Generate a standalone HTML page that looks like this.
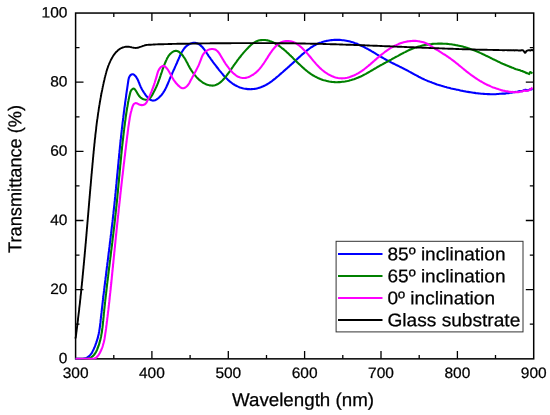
<!DOCTYPE html>
<html><head><meta charset="utf-8"><title>Transmittance</title>
<style>html,body{margin:0;padding:0;background:#fff}svg{display:block}text{font-family:"Liberation Sans",sans-serif;fill:#000;stroke:#000;stroke-width:0.25px}</style>
</head><body>
<svg width="550" height="415" viewBox="0 0 550 415">
<rect width="550" height="415" fill="#fff"/>
<rect x="75.6" y="13.05" width="458.1" height="345.8" fill="none" stroke="#000" stroke-width="1.5"/>
<path d="M113.8,358.8v-3.9M113.8,13.05v3.9M151.9,358.8v-7.9M151.9,13.05v7.9M190.1,358.8v-3.9M190.1,13.05v3.9M228.3,358.8v-7.9M228.3,13.05v7.9M266.5,358.8v-3.9M266.5,13.05v3.9M304.6,358.8v-7.9M304.6,13.05v7.9M342.8,358.8v-3.9M342.8,13.05v3.9M381.0,358.8v-7.9M381.0,13.05v7.9M419.2,358.8v-3.9M419.2,13.05v3.9M457.4,358.8v-7.9M457.4,13.05v7.9M495.5,358.8v-3.9M495.5,13.05v3.9M75.6,324.2h3.9M533.7,324.2h-3.9M75.6,289.6h7.9M533.7,289.6h-7.9M75.6,255.1h3.9M533.7,255.1h-3.9M75.6,220.5h7.9M533.7,220.5h-7.9M75.6,185.9h3.9M533.7,185.9h-3.9M75.6,151.4h7.9M533.7,151.4h-7.9M75.6,116.8h3.9M533.7,116.8h-3.9M75.6,82.2h7.9M533.7,82.2h-7.9M75.6,47.6h3.9M533.7,47.6h-3.9" stroke="#000" stroke-width="1.3" fill="none"/>
<clipPath id="cp"><rect x="74" y="12" width="461" height="347.6"/></clipPath><g fill="none" stroke-linejoin="round" stroke-linecap="butt" clip-path="url(#cp)">
<path d="M75.5,358.8 L76.8,358.8 L78.2,358.8 L79.5,358.8 L80.8,358.8 L82.1,358.8 L83.5,358.6 L84.8,358.3 L86.1,357.9 L87.3,357.4 L88.4,356.7 L89.4,355.9 L90.3,354.9 L91.1,353.9 L91.9,352.8 L92.5,351.6 L93.1,350.4 L93.7,349.2 L94.2,347.9 L94.8,346.7 L95.3,345.4 L95.7,344.2 L96.2,342.9 L96.6,341.7 L97.0,340.4 L97.4,339.1 L97.8,337.9 L98.1,336.6 L98.4,335.3 L98.7,334.0 L98.9,332.7 L99.2,331.4 L99.4,330.1 L99.6,328.8 L99.8,327.5 L100.0,326.2 L100.1,324.8 L100.3,323.5 L100.5,322.2 L100.6,320.9 L100.7,319.5 L100.9,318.2 L101.0,316.9 L101.2,315.6 L101.3,314.2 L101.5,312.9 L101.6,311.6 L101.8,310.3 L101.9,308.9 L102.1,307.6 L102.2,306.3 L102.4,305.0 L102.5,303.6 L102.7,302.3 L102.8,301.0 L103.0,299.7 L103.1,298.4 L103.3,297.0 L103.4,295.7 L103.6,294.4 L103.8,293.1 L103.9,291.7 L104.1,290.4 L104.2,289.1 L104.4,287.8 L104.6,286.5 L104.7,285.1 L104.9,283.8 L105.0,282.5 L105.2,281.2 L105.4,279.9 L105.5,278.5 L105.7,277.2 L105.9,275.9 L106.0,274.6 L106.2,273.3 L106.3,272.0 L106.5,270.6 L106.7,269.3 L106.8,268.0 L107.0,266.7 L107.2,265.4 L107.3,264.0 L107.5,262.7 L107.7,261.4 L107.8,260.1 L108.0,258.8 L108.2,257.5 L108.3,256.1 L108.5,254.8 L108.6,253.5 L108.8,252.2 L109.0,250.9 L109.1,249.6 L109.3,248.2 L109.5,246.9 L109.6,245.6 L109.8,244.3 L109.9,243.0 L110.1,241.6 L110.3,240.3 L110.4,239.0 L110.6,237.7 L110.7,236.4 L110.9,235.1 L111.1,233.7 L111.2,232.4 L111.4,231.1 L111.5,229.8 L111.7,228.5 L111.8,227.1 L112.0,225.8 L112.2,224.5 L112.3,223.2 L112.5,221.9 L112.6,220.5 L112.8,219.2 L112.9,217.9 L113.1,216.6 L113.2,215.2 L113.4,213.9 L113.5,212.6 L113.6,211.3 L113.8,210.0 L113.9,208.6 L114.1,207.3 L114.2,206.0 L114.4,204.7 L114.5,203.3 L114.6,202.0 L114.8,200.7 L114.9,199.4 L115.0,198.0 L115.2,196.7 L115.3,195.4 L115.4,194.1 L115.6,192.7 L115.7,191.4 L115.8,190.1 L116.0,188.7 L116.1,187.4 L116.2,186.1 L116.3,184.8 L116.5,183.4 L116.6,182.1 L116.7,180.8 L116.8,179.4 L117.0,178.1 L117.1,176.8 L117.2,175.5 L117.3,174.1 L117.5,172.8 L117.6,171.5 L117.7,170.2 L117.9,168.8 L118.0,167.5 L118.1,166.2 L118.2,164.8 L118.4,163.5 L118.5,162.2 L118.6,160.9 L118.7,159.5 L118.9,158.2 L119.0,156.9 L119.1,155.6 L119.2,154.2 L119.4,152.9 L119.5,151.6 L119.6,150.3 L119.8,149.0 L119.9,147.6 L120.0,146.3 L120.2,145.0 L120.3,143.7 L120.4,142.4 L120.6,141.0 L120.7,139.7 L120.9,138.4 L121.0,137.1 L121.1,135.8 L121.3,134.5 L121.4,133.1 L121.6,131.8 L121.7,130.5 L121.9,129.2 L122.0,127.9 L122.2,126.6 L122.3,125.3 L122.5,124.0 L122.6,122.6 L122.8,121.3 L123.0,120.0 L123.1,118.7 L123.3,117.4 L123.4,116.1 L123.6,114.8 L123.8,113.5 L123.9,112.2 L124.1,110.8 L124.3,109.5 L124.4,108.2 L124.6,106.9 L124.8,105.6 L125.0,104.3 L125.1,102.9 L125.3,101.6 L125.5,100.3 L125.7,99.0 L125.9,97.6 L126.1,96.3 L126.2,95.0 L126.4,93.6 L126.6,92.3 L126.8,90.9 L127.0,89.6 L127.2,88.3 L127.4,86.9 L127.6,85.6 L127.8,84.2 L128.0,82.8 L128.2,81.5 L128.4,80.1 L128.7,78.8 L129.0,77.5 L129.6,76.4 L130.3,75.4 L131.2,74.6 L132.2,74.2 L133.3,74.3 L134.3,74.9 L135.3,75.9 L136.2,77.0 L136.9,78.2 L137.6,79.4 L138.2,80.7 L138.7,82.0 L139.2,83.2 L139.7,84.5 L140.2,85.7 L140.7,86.9 L141.3,88.0 L141.9,89.2 L142.5,90.3 L143.2,91.4 L143.9,92.5 L144.7,93.6 L145.5,94.8 L146.4,96.0 L147.3,97.1 L148.3,98.1 L149.3,99.0 L150.4,99.8 L151.5,100.3 L152.7,100.6 L153.9,100.5 L155.1,100.2 L156.3,99.6 L157.4,98.8 L158.5,98.0 L159.5,97.1 L160.5,96.1 L161.4,95.2 L162.2,94.1 L163.0,93.0 L163.7,91.9 L164.4,90.8 L165.1,89.6 L165.7,88.4 L166.3,87.2 L166.8,86.0 L167.4,84.8 L167.9,83.5 L168.4,82.3 L168.9,81.1 L169.4,79.8 L169.9,78.6 L170.4,77.4 L171.0,76.2 L171.5,75.0 L172.0,73.8 L172.5,72.6 L173.1,71.4 L173.6,70.2 L174.2,69.0 L174.7,67.8 L175.2,66.6 L175.8,65.4 L176.3,64.2 L176.9,63.0 L177.4,61.7 L177.9,60.5 L178.5,59.2 L179.0,58.0 L179.6,56.7 L180.1,55.5 L180.7,54.2 L181.3,53.0 L182.0,51.8 L182.7,50.7 L183.4,49.6 L184.2,48.5 L185.0,47.5 L185.9,46.6 L186.8,45.8 L187.9,45.0 L189.0,44.3 L190.2,43.8 L191.5,43.3 L192.8,42.9 L194.2,42.8 L195.6,42.9 L196.9,43.2 L198.1,43.7 L199.2,44.4 L200.3,45.2 L201.3,46.1 L202.3,47.0 L203.1,48.0 L204.0,49.1 L204.8,50.2 L205.5,51.3 L206.3,52.4 L207.0,53.5 L207.8,54.6 L208.5,55.8 L209.3,56.9 L210.1,57.9 L210.8,59.0 L211.6,60.1 L212.4,61.2 L213.2,62.3 L214.0,63.3 L214.8,64.4 L215.6,65.4 L216.4,66.5 L217.2,67.5 L218.0,68.5 L218.8,69.6 L219.6,70.6 L220.5,71.6 L221.3,72.6 L222.2,73.6 L223.0,74.7 L223.9,75.7 L224.8,76.7 L225.8,77.6 L226.7,78.6 L227.7,79.6 L228.7,80.5 L229.7,81.4 L230.7,82.2 L231.8,83.0 L232.9,83.8 L234.0,84.5 L235.1,85.2 L236.3,85.8 L237.5,86.4 L238.7,86.9 L240.0,87.4 L241.2,87.8 L242.5,88.2 L243.8,88.5 L245.1,88.7 L246.4,88.9 L247.8,89.1 L249.1,89.1 L250.4,89.2 L251.7,89.1 L253.1,89.0 L254.4,88.9 L255.7,88.7 L257.0,88.4 L258.3,88.1 L259.5,87.7 L260.8,87.3 L262.0,86.8 L263.2,86.3 L264.4,85.7 L265.6,85.1 L266.7,84.5 L267.8,83.8 L269.0,83.1 L270.1,82.3 L271.2,81.6 L272.3,80.8 L273.4,79.9 L274.4,79.1 L275.5,78.3 L276.5,77.4 L277.6,76.5 L278.6,75.7 L279.6,74.8 L280.6,73.9 L281.6,73.0 L282.6,72.2 L283.6,71.3 L284.6,70.4 L285.6,69.5 L286.6,68.6 L287.6,67.8 L288.6,66.9 L289.5,66.0 L290.5,65.1 L291.5,64.2 L292.5,63.4 L293.4,62.5 L294.4,61.6 L295.4,60.7 L296.4,59.8 L297.3,58.9 L298.3,58.0 L299.3,57.1 L300.3,56.2 L301.3,55.3 L302.3,54.4 L303.3,53.6 L304.3,52.7 L305.3,51.8 L306.4,51.0 L307.4,50.1 L308.5,49.3 L309.6,48.5 L310.6,47.7 L311.8,47.0 L312.9,46.3 L314.0,45.6 L315.2,45.0 L316.4,44.4 L317.6,43.8 L318.8,43.3 L320.0,42.8 L321.3,42.4 L322.5,41.9 L323.8,41.6 L325.1,41.2 L326.4,40.9 L327.7,40.7 L329.0,40.5 L330.3,40.3 L331.6,40.1 L333.0,40.0 L334.3,39.9 L335.6,39.9 L337.0,39.9 L338.3,39.9 L339.7,39.9 L341.0,40.0 L342.3,40.2 L343.6,40.3 L345.0,40.5 L346.3,40.7 L347.6,41.0 L348.9,41.3 L350.2,41.6 L351.4,41.9 L352.7,42.3 L354.0,42.7 L355.2,43.2 L356.4,43.6 L357.7,44.1 L358.9,44.6 L360.1,45.1 L361.3,45.7 L362.5,46.3 L363.7,46.9 L364.9,47.5 L366.0,48.1 L367.2,48.7 L368.4,49.4 L369.5,50.0 L370.7,50.7 L371.8,51.4 L373.0,52.0 L374.1,52.7 L375.3,53.4 L376.4,54.1 L377.6,54.8 L378.7,55.5 L379.9,56.1 L381.0,56.8 L382.2,57.5 L383.4,58.2 L384.5,58.8 L385.7,59.5 L386.8,60.1 L388.0,60.8 L389.2,61.4 L390.4,62.0 L391.5,62.6 L392.7,63.2 L393.9,63.8 L395.1,64.4 L396.3,65.0 L397.5,65.5 L398.7,66.1 L399.8,66.7 L401.0,67.3 L402.2,67.9 L403.4,68.5 L404.6,69.1 L405.8,69.7 L406.9,70.3 L408.1,70.9 L409.3,71.6 L410.4,72.2 L411.6,72.8 L412.8,73.5 L413.9,74.1 L415.1,74.8 L416.3,75.4 L417.5,76.0 L418.6,76.7 L419.8,77.3 L421.0,77.9 L422.2,78.5 L423.4,79.0 L424.6,79.6 L425.8,80.1 L427.0,80.6 L428.3,81.2 L429.5,81.6 L430.7,82.1 L432.0,82.6 L433.2,83.1 L434.5,83.5 L435.7,83.9 L437.0,84.4 L438.2,84.8 L439.5,85.2 L440.8,85.6 L442.1,85.9 L443.3,86.3 L444.6,86.7 L445.9,87.0 L447.2,87.4 L448.5,87.7 L449.8,88.0 L451.1,88.4 L452.4,88.7 L453.7,89.0 L455.0,89.3 L456.3,89.6 L457.6,89.8 L458.9,90.1 L460.2,90.4 L461.5,90.7 L462.8,90.9 L464.1,91.2 L465.4,91.4 L466.7,91.7 L468.0,91.9 L469.3,92.1 L470.6,92.3 L471.9,92.5 L473.3,92.7 L474.6,92.9 L475.9,93.1 L477.2,93.2 L478.5,93.4 L479.8,93.5 L481.2,93.7 L482.5,93.8 L483.8,93.9 L485.1,94.0 L486.4,94.0 L487.8,94.1 L489.1,94.1 L490.4,94.2 L491.7,94.2 L493.1,94.2 L494.4,94.2 L495.7,94.2 L497.1,94.0 L498.4,94.0 L499.7,93.8 L501.0,93.8 L502.4,93.6 L503.7,93.6 L505.0,93.6 L506.4,93.3 L507.7,93.3 L509.0,93.1 L510.3,92.6 L511.7,92.7 L513.0,92.3 L514.3,92.2 L515.6,91.9 L516.9,92.0 L518.2,91.5 L519.6,91.0 L520.9,91.1 L522.2,91.2 L523.5,90.3 L524.8,89.9 L526.1,89.9 L527.4,90.4 L528.6,90.2 L529.9,89.4 L531.2,89.5 L532.5,89.1" stroke="#0000ff" stroke-width="2.1"/>
<path d="M75.6,358.8 L76.7,358.7 L78.0,358.7 L79.3,358.8 L80.6,358.8 L82.0,358.9 L83.4,358.9 L84.8,358.9 L86.2,358.8 L87.5,358.6 L88.8,358.3 L90.0,357.9 L91.1,357.4 L92.1,356.7 L93.1,355.9 L93.9,355.0 L94.7,354.0 L95.4,352.9 L96.1,351.7 L96.7,350.5 L97.2,349.3 L97.7,348.0 L98.2,346.7 L98.7,345.5 L99.1,344.2 L99.5,342.9 L99.8,341.6 L100.2,340.4 L100.5,339.1 L100.8,337.8 L101.1,336.5 L101.3,335.2 L101.5,333.9 L101.8,332.6 L102.0,331.3 L102.1,330.0 L102.3,328.7 L102.5,327.4 L102.6,326.1 L102.8,324.8 L102.9,323.5 L103.0,322.2 L103.2,320.9 L103.3,319.6 L103.4,318.3 L103.6,316.9 L103.7,315.6 L103.8,314.3 L103.9,313.0 L104.1,311.7 L104.2,310.4 L104.3,309.1 L104.5,307.8 L104.6,306.5 L104.8,305.2 L104.9,303.9 L105.0,302.6 L105.2,301.2 L105.3,299.9 L105.5,298.6 L105.6,297.3 L105.8,296.0 L105.9,294.7 L106.1,293.4 L106.2,292.1 L106.4,290.8 L106.5,289.5 L106.7,288.2 L106.8,286.9 L107.0,285.5 L107.1,284.2 L107.3,282.9 L107.4,281.6 L107.6,280.3 L107.8,279.0 L107.9,277.7 L108.1,276.4 L108.2,275.1 L108.4,273.8 L108.6,272.5 L108.7,271.2 L108.9,269.8 L109.0,268.5 L109.2,267.2 L109.4,265.9 L109.5,264.6 L109.7,263.3 L109.8,262.0 L110.0,260.7 L110.2,259.4 L110.3,258.1 L110.5,256.8 L110.7,255.5 L110.8,254.1 L111.0,252.8 L111.1,251.5 L111.3,250.2 L111.5,248.9 L111.6,247.6 L111.8,246.3 L112.0,245.0 L112.1,243.7 L112.3,242.4 L112.4,241.1 L112.6,239.8 L112.7,238.4 L112.9,237.1 L113.1,235.8 L113.2,234.5 L113.4,233.2 L113.5,231.9 L113.7,230.6 L113.8,229.3 L114.0,228.0 L114.2,226.7 L114.3,225.3 L114.5,224.0 L114.6,222.7 L114.8,221.4 L114.9,220.1 L115.1,218.8 L115.2,217.5 L115.3,216.2 L115.5,214.9 L115.6,213.6 L115.8,212.2 L115.9,210.9 L116.1,209.6 L116.2,208.3 L116.3,207.0 L116.5,205.7 L116.6,204.4 L116.7,203.1 L116.9,201.8 L117.0,200.4 L117.1,199.1 L117.3,197.8 L117.4,196.5 L117.5,195.2 L117.6,193.9 L117.8,192.6 L117.9,191.3 L118.0,190.0 L118.1,188.6 L118.3,187.3 L118.4,186.0 L118.5,184.7 L118.6,183.4 L118.8,182.1 L118.9,180.8 L119.0,179.5 L119.1,178.1 L119.2,176.8 L119.4,175.5 L119.5,174.2 L119.6,172.9 L119.7,171.6 L119.8,170.3 L120.0,169.0 L120.1,167.7 L120.2,166.3 L120.3,165.0 L120.5,163.7 L120.6,162.4 L120.7,161.1 L120.8,159.8 L121.0,158.5 L121.1,157.2 L121.2,155.9 L121.3,154.5 L121.5,153.2 L121.6,151.9 L121.7,150.6 L121.9,149.3 L122.0,148.0 L122.1,146.7 L122.3,145.4 L122.4,144.1 L122.6,142.8 L122.7,141.4 L122.9,140.1 L123.0,138.8 L123.2,137.5 L123.3,136.2 L123.5,134.9 L123.6,133.6 L123.8,132.3 L123.9,131.0 L124.1,129.7 L124.2,128.4 L124.4,127.1 L124.6,125.8 L124.8,124.5 L124.9,123.1 L125.1,121.8 L125.3,120.5 L125.5,119.2 L125.6,117.9 L125.8,116.6 L126.0,115.3 L126.2,114.0 L126.4,112.7 L126.6,111.4 L126.8,110.1 L127.0,108.8 L127.2,107.5 L127.5,106.2 L127.7,104.9 L127.9,103.6 L128.1,102.3 L128.4,101.0 L128.6,99.7 L128.9,98.4 L129.2,97.1 L129.5,95.8 L129.8,94.6 L130.1,93.3 L130.4,92.0 L130.9,90.8 L131.7,89.7 L132.8,88.8 L133.9,88.6 L134.9,89.3 L135.7,90.5 L136.5,91.8 L137.2,93.0 L137.9,94.2 L138.7,95.3 L139.4,96.3 L140.3,97.2 L141.2,98.0 L142.3,98.7 L143.5,99.2 L144.9,99.6 L146.3,99.7 L147.6,99.5 L148.7,99.1 L149.7,98.3 L150.6,97.4 L151.4,96.3 L152.1,95.1 L152.8,93.9 L153.5,92.6 L154.1,91.4 L154.7,90.2 L155.3,89.0 L155.8,87.9 L156.4,86.7 L156.9,85.5 L157.4,84.4 L157.9,83.2 L158.3,82.0 L158.8,80.7 L159.2,79.5 L159.7,78.3 L160.1,77.0 L160.5,75.8 L160.9,74.5 L161.4,73.2 L161.8,72.0 L162.2,70.7 L162.6,69.4 L163.1,68.2 L163.5,66.9 L164.0,65.7 L164.5,64.4 L165.0,63.2 L165.5,62.0 L166.0,60.8 L166.6,59.6 L167.1,58.4 L167.8,57.3 L168.4,56.2 L169.2,55.1 L170.0,54.1 L171.0,53.2 L172.1,52.3 L173.3,51.5 L174.6,51.0 L175.9,50.8 L177.1,51.0 L178.3,51.5 L179.4,52.2 L180.4,53.1 L181.4,54.0 L182.3,55.0 L183.1,56.0 L183.8,57.1 L184.6,58.2 L185.3,59.3 L185.9,60.5 L186.5,61.6 L187.2,62.8 L187.8,64.0 L188.4,65.2 L189.0,66.3 L189.6,67.5 L190.3,68.6 L191.0,69.8 L191.7,70.9 L192.5,72.0 L193.2,73.0 L194.0,74.1 L194.8,75.1 L195.7,76.1 L196.5,77.1 L197.4,78.1 L198.4,79.0 L199.3,79.9 L200.3,80.7 L201.4,81.5 L202.4,82.3 L203.6,83.0 L204.8,83.6 L206.0,84.2 L207.3,84.7 L208.6,85.1 L209.9,85.4 L211.2,85.5 L212.5,85.6 L213.8,85.5 L215.0,85.2 L216.2,84.8 L217.4,84.3 L218.5,83.6 L219.6,82.9 L220.6,82.1 L221.6,81.2 L222.6,80.3 L223.5,79.3 L224.5,78.2 L225.3,77.2 L226.2,76.1 L227.0,75.0 L227.8,74.0 L228.6,72.9 L229.4,71.8 L230.1,70.8 L230.9,69.7 L231.6,68.6 L232.3,67.6 L233.1,66.5 L233.8,65.4 L234.6,64.4 L235.3,63.3 L236.1,62.3 L236.9,61.2 L237.6,60.1 L238.4,59.1 L239.2,58.0 L240.1,57.0 L240.9,56.0 L241.7,54.9 L242.6,53.9 L243.4,52.9 L244.3,51.9 L245.2,50.9 L246.1,49.9 L247.0,48.9 L247.9,48.0 L248.8,47.0 L249.8,46.1 L250.7,45.2 L251.7,44.3 L252.8,43.5 L253.8,42.8 L254.9,42.1 L256.1,41.5 L257.3,41.0 L258.5,40.6 L259.8,40.3 L261.1,40.1 L262.5,40.0 L263.9,40.0 L265.2,40.0 L266.5,40.2 L267.8,40.4 L269.1,40.8 L270.3,41.2 L271.6,41.6 L272.8,42.1 L273.9,42.7 L275.1,43.3 L276.2,44.0 L277.3,44.7 L278.4,45.4 L279.5,46.2 L280.6,47.0 L281.6,47.8 L282.7,48.6 L283.7,49.4 L284.7,50.3 L285.7,51.1 L286.6,52.0 L287.6,52.9 L288.6,53.8 L289.5,54.7 L290.5,55.6 L291.4,56.5 L292.4,57.4 L293.3,58.4 L294.2,59.3 L295.2,60.2 L296.1,61.1 L297.0,62.1 L298.0,63.0 L298.9,63.9 L299.9,64.8 L300.9,65.7 L301.8,66.6 L302.8,67.5 L303.8,68.4 L304.8,69.3 L305.8,70.1 L306.9,71.0 L307.9,71.8 L309.0,72.6 L310.0,73.3 L311.1,74.1 L312.2,74.8 L313.3,75.5 L314.5,76.2 L315.6,76.8 L316.8,77.4 L318.0,78.0 L319.2,78.5 L320.4,79.0 L321.6,79.4 L322.9,79.9 L324.1,80.3 L325.4,80.6 L326.7,80.9 L328.0,81.2 L329.2,81.5 L330.5,81.7 L331.8,81.9 L333.1,82.0 L334.5,82.1 L335.8,82.2 L337.1,82.2 L338.4,82.1 L339.7,82.1 L341.0,82.0 L342.3,81.8 L343.7,81.7 L345.0,81.5 L346.3,81.2 L347.6,81.0 L348.9,80.7 L350.1,80.3 L351.4,80.0 L352.7,79.6 L354.0,79.2 L355.2,78.7 L356.4,78.3 L357.7,77.8 L358.9,77.2 L360.1,76.7 L361.3,76.2 L362.5,75.6 L363.6,75.0 L364.8,74.4 L365.9,73.8 L367.1,73.1 L368.2,72.5 L369.4,71.8 L370.5,71.2 L371.7,70.5 L372.8,69.9 L373.9,69.2 L375.1,68.5 L376.2,67.9 L377.3,67.2 L378.5,66.5 L379.6,65.9 L380.7,65.2 L381.9,64.6 L383.0,64.0 L384.2,63.3 L385.4,62.7 L386.5,62.1 L387.7,61.5 L388.8,60.8 L390.0,60.2 L391.2,59.6 L392.3,58.9 L393.5,58.3 L394.6,57.7 L395.8,57.0 L397.0,56.4 L398.1,55.8 L399.3,55.1 L400.4,54.5 L401.6,53.9 L402.8,53.3 L403.9,52.6 L405.1,52.1 L406.3,51.5 L407.5,50.9 L408.7,50.3 L409.9,49.8 L411.1,49.3 L412.3,48.8 L413.5,48.3 L414.7,47.8 L416.0,47.4 L417.2,47.0 L418.5,46.6 L419.7,46.3 L421.0,45.9 L422.3,45.6 L423.6,45.3 L424.9,45.0 L426.2,44.8 L427.5,44.6 L428.8,44.4 L430.1,44.2 L431.4,44.1 L432.7,43.9 L434.0,43.8 L435.3,43.7 L436.7,43.7 L438.0,43.6 L439.3,43.6 L440.6,43.6 L441.9,43.6 L443.3,43.7 L444.6,43.7 L445.9,43.8 L447.2,43.9 L448.5,44.0 L449.8,44.2 L451.1,44.3 L452.4,44.5 L453.7,44.7 L455.0,44.9 L456.3,45.2 L457.6,45.4 L458.9,45.7 L460.2,46.0 L461.5,46.3 L462.8,46.6 L464.0,46.9 L465.3,47.3 L466.6,47.7 L467.8,48.1 L469.1,48.5 L470.3,48.9 L471.6,49.4 L472.8,49.8 L474.0,50.3 L475.3,50.8 L476.5,51.3 L477.7,51.8 L478.9,52.3 L480.1,52.9 L481.3,53.4 L482.5,54.0 L483.7,54.5 L484.9,55.1 L486.1,55.7 L487.3,56.2 L488.4,56.8 L489.6,57.4 L490.8,58.0 L492.0,58.6 L493.2,59.2 L494.4,59.7 L495.5,60.3 L496.7,60.9 L497.9,61.5 L499.1,62.0 L500.3,62.6 L501.5,63.3 L502.7,63.8 L503.9,64.2 L505.1,64.7 L506.3,65.3 L507.5,65.7 L508.7,66.2 L509.9,66.9 L511.1,67.1 L512.3,67.8 L513.6,68.1 L514.8,68.8 L516.1,69.3 L517.3,69.6 L518.6,70.0 L519.8,70.1 L521.1,70.9 L522.3,71.0 L523.6,71.8 L524.8,72.1 L526.0,72.9 L527.1,73.1 L528.2,73.6 L529.2,74.1 L530.1,72.1 L531.2,72.5 L532.4,73.5" stroke="#008000" stroke-width="2.1"/>
<path d="M75.5,358.8 L76.9,358.9 L78.3,358.9 L79.6,358.9 L80.9,358.8 L82.2,358.8 L83.5,358.7 L84.8,358.7 L86.1,358.7 L87.5,358.7 L88.9,358.8 L90.3,358.9 L91.7,358.9 L93.1,358.8 L94.4,358.5 L95.5,358.0 L96.6,357.3 L97.5,356.3 L98.3,355.3 L99.1,354.1 L99.8,353.0 L100.4,351.7 L101.0,350.5 L101.5,349.3 L102.0,348.1 L102.5,346.8 L102.9,345.5 L103.2,344.3 L103.6,343.0 L103.9,341.7 L104.2,340.4 L104.5,339.0 L104.7,337.7 L104.9,336.4 L105.1,335.1 L105.3,333.7 L105.5,332.4 L105.7,331.1 L105.9,329.7 L106.1,328.4 L106.2,327.1 L106.4,325.7 L106.6,324.4 L106.7,323.1 L106.9,321.7 L107.1,320.4 L107.2,319.1 L107.4,317.7 L107.6,316.4 L107.7,315.1 L107.9,313.7 L108.0,312.4 L108.2,311.1 L108.4,309.7 L108.5,308.4 L108.7,307.0 L108.8,305.7 L109.0,304.4 L109.1,303.0 L109.3,301.7 L109.4,300.4 L109.6,299.0 L109.7,297.7 L109.8,296.4 L110.0,295.0 L110.1,293.7 L110.3,292.4 L110.4,291.0 L110.6,289.7 L110.7,288.4 L110.8,287.0 L111.0,285.7 L111.1,284.4 L111.3,283.0 L111.4,281.7 L111.5,280.4 L111.7,279.0 L111.8,277.7 L111.9,276.4 L112.1,275.0 L112.2,273.7 L112.3,272.4 L112.5,271.0 L112.6,269.7 L112.7,268.3 L112.9,267.0 L113.0,265.7 L113.1,264.3 L113.3,263.0 L113.4,261.7 L113.5,260.3 L113.7,259.0 L113.8,257.7 L113.9,256.3 L114.1,255.0 L114.2,253.7 L114.3,252.3 L114.5,251.0 L114.6,249.7 L114.7,248.3 L114.9,247.0 L115.0,245.6 L115.1,244.3 L115.3,243.0 L115.4,241.6 L115.5,240.3 L115.7,239.0 L115.8,237.6 L115.9,236.3 L116.1,235.0 L116.2,233.6 L116.4,232.3 L116.5,230.9 L116.6,229.6 L116.8,228.3 L116.9,226.9 L117.0,225.6 L117.2,224.3 L117.3,222.9 L117.5,221.6 L117.6,220.3 L117.7,218.9 L117.9,217.6 L118.0,216.2 L118.2,214.9 L118.3,213.6 L118.5,212.2 L118.6,210.9 L118.7,209.6 L118.9,208.2 L119.0,206.9 L119.2,205.6 L119.3,204.2 L119.5,202.9 L119.6,201.5 L119.8,200.2 L119.9,198.9 L120.1,197.5 L120.2,196.2 L120.3,194.9 L120.5,193.5 L120.6,192.2 L120.8,190.9 L120.9,189.5 L121.1,188.2 L121.2,186.8 L121.4,185.5 L121.5,184.2 L121.7,182.8 L121.8,181.5 L122.0,180.2 L122.1,178.8 L122.3,177.5 L122.4,176.2 L122.6,174.8 L122.8,173.5 L122.9,172.2 L123.1,170.8 L123.2,169.5 L123.4,168.2 L123.5,166.8 L123.7,165.5 L123.8,164.2 L124.0,162.8 L124.2,161.5 L124.3,160.2 L124.5,158.8 L124.6,157.5 L124.8,156.2 L125.0,154.8 L125.1,153.5 L125.3,152.2 L125.4,150.8 L125.6,149.5 L125.8,148.2 L125.9,146.8 L126.1,145.5 L126.2,144.2 L126.4,142.9 L126.6,141.5 L126.7,140.2 L126.9,138.9 L127.1,137.5 L127.2,136.2 L127.4,134.9 L127.6,133.6 L127.7,132.2 L127.9,130.9 L128.1,129.6 L128.2,128.2 L128.4,126.9 L128.6,125.6 L128.8,124.3 L129.0,122.9 L129.2,121.6 L129.4,120.3 L129.6,119.0 L129.8,117.6 L130.1,116.3 L130.3,115.0 L130.6,113.6 L130.9,112.3 L131.3,111.0 L131.6,109.7 L132.0,108.3 L132.4,107.0 L132.9,105.7 L133.5,104.5 L134.3,103.6 L135.5,103.1 L136.7,103.3 L138.0,103.9 L139.2,104.5 L140.6,104.9 L141.9,105.1 L143.2,105.0 L144.4,104.6 L145.4,103.9 L146.2,102.9 L146.9,101.7 L147.5,100.4 L148.1,99.2 L148.7,97.9 L149.3,96.7 L149.9,95.4 L150.4,94.2 L150.9,92.9 L151.5,91.7 L151.9,90.5 L152.4,89.2 L152.9,88.0 L153.3,86.7 L153.8,85.5 L154.2,84.2 L154.6,83.0 L155.0,81.7 L155.4,80.4 L155.8,79.1 L156.2,77.8 L156.6,76.6 L156.9,75.2 L157.3,73.9 L157.7,72.6 L158.1,71.3 L158.7,70.1 L159.4,68.9 L160.2,67.8 L161.2,66.8 L162.4,66.1 L163.6,65.9 L164.7,66.3 L165.7,67.1 L166.7,68.2 L167.6,69.4 L168.4,70.5 L169.1,71.7 L169.8,72.9 L170.4,74.1 L171.1,75.2 L171.7,76.4 L172.3,77.5 L173.0,78.7 L173.6,79.8 L174.4,80.9 L175.2,82.0 L176.0,83.0 L176.9,84.0 L177.9,85.1 L179.0,86.1 L180.0,87.1 L181.2,87.8 L182.3,88.2 L183.6,88.2 L184.8,87.8 L186.0,87.0 L187.1,86.0 L188.0,85.0 L188.8,83.8 L189.5,82.7 L190.1,81.5 L190.7,80.3 L191.4,79.1 L192.0,78.0 L192.6,76.8 L193.3,75.6 L193.9,74.5 L194.5,73.3 L195.2,72.1 L195.8,71.0 L196.4,69.8 L197.0,68.6 L197.6,67.4 L198.2,66.2 L198.8,64.9 L199.3,63.7 L199.8,62.4 L200.3,61.1 L200.8,59.8 L201.3,58.5 L201.8,57.2 L202.3,56.0 L202.9,54.8 L203.7,53.6 L204.5,52.6 L205.5,51.7 L206.6,50.8 L207.7,50.1 L208.9,49.6 L210.2,49.2 L211.5,49.0 L212.7,49.0 L214.0,49.2 L215.2,49.5 L216.3,50.2 L217.3,51.0 L218.2,52.0 L219.1,53.1 L219.9,54.4 L220.7,55.7 L221.4,56.9 L222.2,58.2 L222.9,59.4 L223.6,60.5 L224.2,61.7 L224.9,62.7 L225.6,63.8 L226.4,64.9 L227.1,65.9 L227.9,66.9 L228.7,68.0 L229.5,69.1 L230.4,70.1 L231.4,71.2 L232.3,72.2 L233.3,73.2 L234.4,74.1 L235.5,75.0 L236.6,75.8 L237.7,76.5 L238.9,77.1 L240.2,77.5 L241.4,77.8 L242.7,78.0 L244.0,78.0 L245.3,77.9 L246.7,77.6 L248.0,77.2 L249.3,76.7 L250.5,76.1 L251.7,75.4 L252.9,74.8 L254.0,74.0 L255.1,73.2 L256.1,72.4 L257.0,71.5 L258.0,70.6 L258.9,69.6 L259.8,68.6 L260.6,67.6 L261.4,66.6 L262.2,65.5 L263.0,64.4 L263.8,63.3 L264.5,62.2 L265.3,61.0 L266.0,59.9 L266.8,58.7 L267.5,57.6 L268.2,56.4 L269.0,55.2 L269.7,54.1 L270.5,52.9 L271.3,51.8 L272.1,50.7 L272.9,49.6 L273.8,48.5 L274.7,47.5 L275.6,46.5 L276.5,45.6 L277.5,44.7 L278.6,43.9 L279.7,43.2 L280.8,42.5 L282.0,42.0 L283.3,41.6 L284.6,41.3 L285.9,41.1 L287.3,41.0 L288.6,41.0 L289.9,41.2 L291.2,41.4 L292.5,41.8 L293.7,42.3 L294.9,42.8 L296.1,43.4 L297.2,44.1 L298.3,44.9 L299.4,45.7 L300.5,46.6 L301.5,47.5 L302.5,48.4 L303.5,49.4 L304.5,50.4 L305.4,51.4 L306.4,52.4 L307.2,53.4 L308.1,54.4 L309.0,55.5 L309.9,56.5 L310.7,57.5 L311.6,58.6 L312.4,59.6 L313.2,60.6 L314.1,61.6 L315.0,62.6 L315.8,63.6 L316.7,64.6 L317.6,65.6 L318.5,66.5 L319.5,67.5 L320.4,68.4 L321.4,69.3 L322.5,70.2 L323.5,71.0 L324.6,71.9 L325.7,72.7 L326.9,73.4 L328.0,74.1 L329.2,74.8 L330.4,75.4 L331.6,76.0 L332.9,76.5 L334.1,77.0 L335.4,77.4 L336.7,77.7 L338.0,78.0 L339.3,78.2 L340.6,78.3 L341.9,78.4 L343.2,78.3 L344.6,78.2 L345.9,78.0 L347.2,77.8 L348.5,77.4 L349.8,77.1 L351.1,76.6 L352.4,76.1 L353.7,75.6 L354.9,75.0 L356.1,74.4 L357.3,73.7 L358.5,73.1 L359.6,72.4 L360.8,71.6 L361.9,70.9 L363.0,70.1 L364.1,69.3 L365.1,68.5 L366.2,67.7 L367.2,66.8 L368.2,66.0 L369.2,65.1 L370.3,64.3 L371.3,63.4 L372.3,62.5 L373.3,61.6 L374.3,60.8 L375.3,59.9 L376.3,59.0 L377.3,58.1 L378.4,57.2 L379.4,56.4 L380.4,55.5 L381.5,54.7 L382.5,53.8 L383.6,53.0 L384.6,52.2 L385.7,51.4 L386.8,50.6 L387.9,49.8 L389.0,49.1 L390.1,48.4 L391.3,47.7 L392.5,47.0 L393.6,46.4 L394.8,45.7 L396.0,45.2 L397.3,44.6 L398.5,44.1 L399.8,43.6 L401.1,43.1 L402.3,42.7 L403.6,42.3 L404.9,42.0 L406.2,41.7 L407.6,41.4 L408.9,41.2 L410.2,41.1 L411.6,41.0 L412.9,40.9 L414.2,40.9 L415.6,40.9 L416.9,41.0 L418.3,41.2 L419.6,41.4 L420.9,41.7 L422.2,42.0 L423.5,42.3 L424.8,42.8 L426.0,43.3 L427.2,43.8 L428.4,44.4 L429.6,45.1 L430.7,45.8 L431.9,46.5 L433.0,47.3 L434.1,48.0 L435.3,48.8 L436.4,49.5 L437.5,50.2 L438.7,50.9 L439.8,51.7 L441.0,52.4 L442.1,53.1 L443.2,53.8 L444.4,54.5 L445.5,55.2 L446.6,56.0 L447.7,56.7 L448.8,57.5 L449.9,58.2 L451.0,59.0 L452.1,59.8 L453.2,60.6 L454.2,61.4 L455.3,62.3 L456.3,63.1 L457.4,63.9 L458.4,64.8 L459.4,65.6 L460.5,66.5 L461.5,67.3 L462.6,68.2 L463.6,69.0 L464.6,69.9 L465.7,70.7 L466.7,71.6 L467.8,72.4 L468.8,73.2 L469.9,74.0 L471.0,74.9 L472.1,75.6 L473.2,76.4 L474.3,77.2 L475.4,78.0 L476.5,78.7 L477.6,79.4 L478.8,80.1 L479.9,80.8 L481.1,81.5 L482.3,82.2 L483.4,82.8 L484.6,83.5 L485.8,84.1 L487.0,84.7 L488.2,85.3 L489.5,85.8 L490.7,86.4 L491.9,86.9 L493.2,87.4 L494.4,87.8 L495.7,88.3 L497.0,88.7 L498.3,89.1 L499.5,89.6 L500.8,89.9 L502.1,90.4 L503.5,90.7 L504.8,90.9 L506.1,91.2 L507.4,91.2 L508.7,91.8 L510.0,91.9 L511.4,92.0 L512.7,91.9 L514.0,92.2 L515.4,92.2 L516.7,92.1 L518.0,92.3 L519.3,91.9 L520.7,91.5 L522.0,91.5 L523.3,90.8 L524.6,90.5 L525.9,90.9 L527.2,90.7 L528.5,90.5 L529.8,89.9 L531.1,88.9 L532.4,87.5" stroke="#ff00ff" stroke-width="2.1"/>
<path d="M75.5,338.5 L75.6,337.7 L75.8,336.9 L75.9,336.2 L76.0,335.4 L76.1,334.6 L76.2,333.8 L76.3,333.0 L76.4,332.2 L76.5,331.5 L76.6,330.7 L76.7,329.9 L76.8,329.1 L76.9,328.3 L77.0,327.5 L77.1,326.7 L77.2,326.0 L77.3,325.2 L77.4,324.4 L77.5,323.6 L77.6,322.8 L77.7,322.0 L77.8,321.2 L77.9,320.5 L78.0,319.7 L78.0,318.9 L78.1,318.1 L78.2,317.3 L78.3,316.5 L78.4,315.8 L78.5,315.0 L78.6,314.2 L78.7,313.4 L78.8,312.6 L78.9,311.8 L79.0,311.0 L79.1,310.3 L79.2,309.5 L79.2,308.7 L79.3,307.9 L79.4,307.1 L79.5,306.3 L79.6,305.5 L79.7,304.8 L79.8,304.0 L79.9,303.2 L80.0,302.4 L80.0,301.6 L80.1,300.8 L80.2,300.0 L80.3,299.3 L80.4,298.5 L80.5,297.7 L80.5,296.9 L80.6,296.1 L80.7,295.3 L80.8,294.5 L80.9,293.8 L81.0,293.0 L81.1,292.2 L81.1,291.4 L81.2,290.6 L81.3,289.8 L81.4,289.0 L81.5,288.3 L81.5,287.5 L81.6,286.7 L81.7,285.9 L81.8,285.1 L81.9,284.3 L81.9,283.5 L82.0,282.7 L82.1,282.0 L82.2,281.2 L82.3,280.4 L82.3,279.6 L82.4,278.8 L82.5,278.0 L82.6,277.2 L82.6,276.5 L82.7,275.7 L82.8,274.9 L82.9,274.1 L82.9,273.3 L83.0,272.5 L83.1,271.7 L83.2,270.9 L83.2,270.2 L83.3,269.4 L83.4,268.6 L83.5,267.8 L83.5,267.0 L83.6,266.2 L83.7,265.4 L83.8,264.7 L83.8,263.9 L83.9,263.1 L84.0,262.3 L84.1,261.5 L84.1,260.7 L84.2,259.9 L84.3,259.1 L84.3,258.4 L84.4,257.6 L84.5,256.8 L84.6,256.0 L84.6,255.2 L84.7,254.4 L84.8,253.6 L84.8,252.8 L84.9,252.1 L85.0,251.3 L85.1,250.5 L85.1,249.7 L85.2,248.9 L85.3,248.1 L85.3,247.3 L85.4,246.6 L85.5,245.8 L85.5,245.0 L85.6,244.2 L85.7,243.4 L85.8,242.6 L85.8,241.8 L85.9,241.0 L86.0,240.3 L86.0,239.5 L86.1,238.7 L86.2,237.9 L86.2,237.1 L86.3,236.3 L86.4,235.5 L86.4,234.7 L86.5,234.0 L86.6,233.2 L86.6,232.4 L86.7,231.6 L86.8,230.8 L86.8,230.0 L86.9,229.2 L87.0,228.4 L87.0,227.7 L87.1,226.9 L87.2,226.1 L87.2,225.3 L87.3,224.5 L87.4,223.7 L87.4,222.9 L87.5,222.1 L87.6,221.4 L87.6,220.6 L87.7,219.8 L87.8,219.0 L87.8,218.2 L87.9,217.4 L88.0,216.6 L88.0,215.8 L88.1,215.1 L88.2,214.3 L88.2,213.5 L88.3,212.7 L88.4,211.9 L88.4,211.1 L88.5,210.3 L88.6,209.5 L88.6,208.8 L88.7,208.0 L88.8,207.2 L88.8,206.4 L88.9,205.6 L89.0,204.8 L89.0,204.0 L89.1,203.2 L89.2,202.4 L89.2,201.7 L89.3,200.9 L89.4,200.1 L89.4,199.3 L89.5,198.5 L89.6,197.7 L89.6,196.9 L89.7,196.1 L89.8,195.4 L89.8,194.6 L89.9,193.8 L90.0,193.0 L90.0,192.2 L90.1,191.4 L90.2,190.6 L90.2,189.8 L90.3,189.1 L90.4,188.3 L90.4,187.5 L90.5,186.7 L90.6,185.9 L90.7,185.1 L90.7,184.3 L90.8,183.5 L90.9,182.8 L90.9,182.0 L91.0,181.2 L91.1,180.4 L91.1,179.6 L91.2,178.8 L91.3,178.0 L91.3,177.2 L91.4,176.4 L91.5,175.7 L91.5,174.9 L91.6,174.1 L91.7,173.3 L91.8,172.5 L91.8,171.7 L91.9,170.9 L92.0,170.1 L92.0,169.4 L92.1,168.6 L92.2,167.8 L92.3,167.0 L92.3,166.2 L92.4,165.4 L92.5,164.6 L92.5,163.8 L92.6,163.1 L92.7,162.3 L92.8,161.5 L92.8,160.7 L92.9,159.9 L93.0,159.1 L93.0,158.3 L93.1,157.5 L93.2,156.8 L93.3,156.0 L93.3,155.2 L93.4,154.4 L93.5,153.6 L93.6,152.8 L93.6,152.0 L93.7,151.2 L93.8,150.5 L93.9,149.7 L93.9,148.9 L94.0,148.1 L94.1,147.3 L94.2,146.5 L94.3,145.7 L94.3,144.9 L94.4,144.2 L94.5,143.4 L94.6,142.6 L94.7,141.8 L94.7,141.0 L94.8,140.2 L94.9,139.4 L95.0,138.6 L95.1,137.9 L95.2,137.1 L95.3,136.3 L95.3,135.5 L95.4,134.7 L95.5,133.9 L95.6,133.1 L95.7,132.4 L95.8,131.6 L95.9,130.8 L96.0,130.0 L96.1,129.2 L96.2,128.4 L96.2,127.6 L96.3,126.9 L96.4,126.1 L96.5,125.3 L96.6,124.5 L96.7,123.7 L96.8,122.9 L96.9,122.2 L97.0,121.4 L97.1,120.6 L97.2,119.8 L97.3,119.0 L97.5,118.2 L97.6,117.4 L97.7,116.7 L97.8,115.9 L97.9,115.1 L98.0,114.3 L98.1,113.5 L98.2,112.8 L98.3,112.0 L98.5,111.2 L98.6,110.4 L98.7,109.6 L98.8,108.8 L98.9,108.1 L99.1,107.3 L99.2,106.5 L99.3,105.7 L99.4,104.9 L99.6,104.2 L99.7,103.4 L99.8,102.6 L100.0,101.8 L100.1,101.1 L100.2,100.3 L100.4,99.5 L100.5,98.7 L100.6,97.9 L100.8,97.2 L100.9,96.4 L101.1,95.6 L101.2,94.8 L101.3,94.1 L101.5,93.3 L101.6,92.5 L101.8,91.7 L102.0,91.0 L102.1,90.2 L102.3,89.4 L102.4,88.6 L102.6,87.9 L102.7,87.1 L102.9,86.3 L103.1,85.5 L103.2,84.8 L103.4,84.0 L103.6,83.2 L103.7,82.5 L103.9,81.7 L104.1,80.9 L104.3,80.1 L104.5,79.4 L104.6,78.6 L104.8,77.8 L105.0,77.1 L105.2,76.3 L105.4,75.5 L105.6,74.8 L105.8,74.0 L106.0,73.2 L106.2,72.5 L106.4,71.7 L106.6,71.0 L106.9,70.2 L107.1,69.5 L107.4,68.7 L107.6,68.0 L107.9,67.2 L108.1,66.5 L108.4,65.7 L108.7,65.0 L109.0,64.2 L109.3,63.5 L109.6,62.8 L109.9,62.1 L110.2,61.3 L110.6,60.6 L110.9,59.9 L111.3,59.2 L111.7,58.5 L112.1,57.8 L112.5,57.1 L112.9,56.4 L113.3,55.7 L113.8,55.1 L114.2,54.4 L114.7,53.8 L115.2,53.2 L115.7,52.5 L116.2,52.0 L116.8,51.4 L117.4,50.9 L117.9,50.3 L118.6,49.8 L119.2,49.4 L119.8,48.9 L120.5,48.5 L121.2,48.2 L121.9,47.8 L122.7,47.5 L123.4,47.3 L124.2,47.1 L125.0,46.9 L125.8,46.8 L126.5,46.7 L127.3,46.7 L128.1,46.7 L128.9,46.8 L129.7,46.9 L130.5,47.1 L131.3,47.2 L132.0,47.4 L132.8,47.6 L133.6,47.7 L134.3,47.9 L135.1,47.9 L135.8,48.0 L136.6,47.9 L137.3,47.8 L138.1,47.7 L138.8,47.5 L139.5,47.2 L140.3,46.9 L141.0,46.7 L141.8,46.4 L142.5,46.1 L143.2,45.8 L144.0,45.6 L144.8,45.3 L145.5,45.2 L146.3,45.0 L147.1,44.9 L147.9,44.9 L148.6,44.8 L149.4,44.7 L150.2,44.7 L151.0,44.7 L151.8,44.6 L152.6,44.6 L153.4,44.5 L154.2,44.5 L154.9,44.5 L155.7,44.4 L156.5,44.4 L157.3,44.4 L158.1,44.3 L158.9,44.3 L159.7,44.3 L160.5,44.3 L161.3,44.2 L162.1,44.2 L162.8,44.2 L163.6,44.2 L164.4,44.1 L165.2,44.1 L166.0,44.1 L166.8,44.1 L167.6,44.1 L168.4,44.0 L169.2,44.0 L170.0,44.0 L170.7,44.0 L171.5,44.0 L172.3,43.9 L173.1,43.9 L173.9,43.9 L174.7,43.9 L175.5,43.9 L176.3,43.9 L177.1,43.8 L177.9,43.8 L178.6,43.8 L179.4,43.8 L180.2,43.8 L181.0,43.8 L181.8,43.8 L182.6,43.8 L183.4,43.7 L184.2,43.7 L185.0,43.7 L185.8,43.7 L186.6,43.7 L187.3,43.7 L188.1,43.7 L188.9,43.6 L189.7,43.6 L190.5,43.6 L191.3,43.6 L192.1,43.6 L192.9,43.6 L193.7,43.6 L194.5,43.6 L195.3,43.5 L196.0,43.5 L196.8,43.5 L197.6,43.5 L198.4,43.5 L199.2,43.5 L200.0,43.5 L200.8,43.5 L201.6,43.5 L202.4,43.4 L203.2,43.4 L204.0,43.4 L204.7,43.4 L205.5,43.4 L206.3,43.4 L207.1,43.4 L207.9,43.4 L208.7,43.4 L209.5,43.4 L210.3,43.3 L211.1,43.3 L211.9,43.3 L212.7,43.3 L213.4,43.3 L214.2,43.3 L215.0,43.3 L215.8,43.3 L216.6,43.3 L217.4,43.3 L218.2,43.3 L219.0,43.2 L219.8,43.2 L220.6,43.2 L221.3,43.2 L222.1,43.2 L222.9,43.2 L223.7,43.2 L224.5,43.2 L225.3,43.2 L226.1,43.2 L226.9,43.2 L227.7,43.2 L228.5,43.2 L229.3,43.2 L230.0,43.2 L230.8,43.2 L231.6,43.1 L232.4,43.1 L233.2,43.1 L234.0,43.1 L234.8,43.1 L235.6,43.1 L236.4,43.1 L237.2,43.1 L238.0,43.1 L238.7,43.1 L239.5,43.1 L240.3,43.1 L241.1,43.1 L241.9,43.1 L242.7,43.1 L243.5,43.1 L244.3,43.1 L245.1,43.1 L245.9,43.1 L246.6,43.1 L247.4,43.1 L248.2,43.1 L249.0,43.1 L249.8,43.1 L250.6,43.1 L251.4,43.1 L252.2,43.1 L253.0,43.1 L253.8,43.1 L254.6,43.1 L255.3,43.1 L256.1,43.1 L256.9,43.1 L257.7,43.1 L258.5,43.1 L259.3,43.1 L260.1,43.1 L260.9,43.1 L261.7,43.1 L262.5,43.1 L263.2,43.1 L264.0,43.1 L264.8,43.1 L265.6,43.1 L266.4,43.1 L267.2,43.1 L268.0,43.1 L268.8,43.1 L269.6,43.1 L270.4,43.1 L271.2,43.1 L271.9,43.1 L272.7,43.1 L273.5,43.1 L274.3,43.1 L275.1,43.2 L275.9,43.2 L276.7,43.2 L277.5,43.2 L278.3,43.2 L279.1,43.2 L279.8,43.2 L280.6,43.2 L281.4,43.2 L282.2,43.2 L283.0,43.2 L283.8,43.2 L284.6,43.2 L285.4,43.2 L286.2,43.3 L287.0,43.3 L287.7,43.3 L288.5,43.3 L289.3,43.3 L290.1,43.3 L290.9,43.3 L291.7,43.3 L292.5,43.3 L293.3,43.3 L294.1,43.4 L294.9,43.4 L295.7,43.4 L296.4,43.4 L297.2,43.4 L298.0,43.4 L298.8,43.4 L299.6,43.4 L300.4,43.5 L301.2,43.5 L302.0,43.5 L302.8,43.5 L303.6,43.5 L304.3,43.5 L305.1,43.5 L305.9,43.6 L306.7,43.6 L307.5,43.6 L308.3,43.6 L309.1,43.6 L309.9,43.6 L310.7,43.7 L311.5,43.7 L312.2,43.7 L313.0,43.7 L313.8,43.7 L314.6,43.8 L315.4,43.8 L316.2,43.8 L317.0,43.8 L317.8,43.8 L318.6,43.8 L319.4,43.9 L320.2,43.9 L320.9,43.9 L321.7,43.9 L322.5,43.9 L323.3,44.0 L324.1,44.0 L324.9,44.0 L325.7,44.0 L326.5,44.1 L327.3,44.1 L328.1,44.1 L328.8,44.1 L329.6,44.1 L330.4,44.2 L331.2,44.2 L332.0,44.2 L332.8,44.2 L333.6,44.3 L334.4,44.3 L335.2,44.3 L336.0,44.3 L336.7,44.4 L337.5,44.4 L338.3,44.4 L339.1,44.4 L339.9,44.5 L340.7,44.5 L341.5,44.5 L342.3,44.5 L343.1,44.6 L343.9,44.6 L344.6,44.6 L345.4,44.6 L346.2,44.7 L347.0,44.7 L347.8,44.7 L348.6,44.8 L349.4,44.8 L350.2,44.8 L351.0,44.8 L351.8,44.9 L352.5,44.9 L353.3,44.9 L354.1,45.0 L354.9,45.0 L355.7,45.0 L356.5,45.0 L357.3,45.1 L358.1,45.1 L358.9,45.1 L359.7,45.2 L360.4,45.2 L361.2,45.2 L362.0,45.2 L362.8,45.3 L363.6,45.3 L364.4,45.3 L365.2,45.4 L366.0,45.4 L366.8,45.4 L367.6,45.5 L368.3,45.5 L369.1,45.5 L369.9,45.6 L370.7,45.6 L371.5,45.6 L372.3,45.6 L373.1,45.7 L373.9,45.7 L374.7,45.7 L375.5,45.8 L376.2,45.8 L377.0,45.8 L377.8,45.9 L378.6,45.9 L379.4,45.9 L380.2,46.0 L381.0,46.0 L381.8,46.0 L382.6,46.1 L383.4,46.1 L384.1,46.1 L384.9,46.2 L385.7,46.2 L386.5,46.2 L387.3,46.3 L388.1,46.3 L388.9,46.3 L389.7,46.3 L390.5,46.4 L391.3,46.4 L392.0,46.4 L392.8,46.5 L393.6,46.5 L394.4,46.5 L395.2,46.6 L396.0,46.6 L396.8,46.6 L397.6,46.7 L398.4,46.7 L399.2,46.7 L399.9,46.8 L400.7,46.8 L401.5,46.8 L402.3,46.9 L403.1,46.9 L403.9,46.9 L404.7,47.0 L405.5,47.0 L406.3,47.0 L407.1,47.1 L407.9,47.1 L408.6,47.1 L409.4,47.2 L410.2,47.2 L411.0,47.2 L411.8,47.3 L412.6,47.3 L413.4,47.3 L414.2,47.4 L415.0,47.4 L415.8,47.4 L416.5,47.5 L417.3,47.5 L418.1,47.5 L418.9,47.6 L419.7,47.6 L420.5,47.6 L421.3,47.6 L422.1,47.7 L422.9,47.7 L423.7,47.7 L424.4,47.8 L425.2,47.8 L426.0,47.8 L426.8,47.9 L427.6,47.9 L428.4,47.9 L429.2,48.0 L430.0,48.0 L430.8,48.0 L431.6,48.1 L432.3,48.1 L433.1,48.1 L433.9,48.1 L434.7,48.2 L435.5,48.2 L436.3,48.2 L437.1,48.3 L437.9,48.3 L438.7,48.3 L439.5,48.4 L440.2,48.4 L441.0,48.4 L441.8,48.4 L442.6,48.5 L443.4,48.5 L444.2,48.5 L445.0,48.6 L445.8,48.6 L446.6,48.6 L447.4,48.6 L448.1,48.7 L448.9,48.7 L449.7,48.7 L450.5,48.8 L451.3,48.8 L452.1,48.8 L452.9,48.8 L453.7,48.9 L454.5,48.9 L455.3,48.9 L456.0,49.0 L456.8,49.0 L457.6,49.0 L458.4,49.0 L459.2,49.1 L460.0,49.1 L460.8,49.1 L461.6,49.1 L462.4,49.2 L463.2,49.2 L463.9,49.2 L464.7,49.2 L465.5,49.3 L466.3,49.3 L467.1,49.3 L467.9,49.3 L468.7,49.4 L469.5,49.4 L470.3,49.4 L471.1,49.4 L471.8,49.4 L472.6,49.5 L473.4,49.5 L474.2,49.5 L475.0,49.5 L475.8,49.6 L476.6,49.6 L477.4,49.6 L478.2,49.6 L479.0,49.6 L479.8,49.7 L480.5,49.7 L481.3,49.7 L482.1,49.7 L482.9,49.7 L483.7,49.8 L484.5,49.8 L485.3,49.8 L486.1,49.8 L486.9,49.8 L487.7,49.9 L488.4,49.9 L489.2,49.9 L490.0,49.9 L490.8,49.9 L491.6,49.9 L492.4,49.9 L493.2,50.0 L494.0,50.0 L494.8,50.0 L495.6,50.0 L496.3,50.0 L497.1,50.0 L497.9,50.0 L498.7,50.0 L499.5,50.1 L500.3,50.1 L501.1,50.1 L501.9,50.1 L502.7,50.2 L503.5,50.2 L504.3,50.2 L505.0,50.1 L505.8,50.1 L506.6,50.1 L507.4,50.3 L508.2,50.2 L509.0,50.3 L509.8,50.1 L510.6,50.2 L511.4,50.3 L512.2,50.4 L512.9,50.2 L513.7,50.1 L514.5,50.5 L515.3,50.2 L516.1,50.4 L516.9,50.1 L517.7,50.4 L518.5,50.5 L519.3,50.5 L520.1,50.3 L520.9,50.5 L521.6,50.1 L522.4,50.2 L523.2,50.4 L524.0,51.5 L524.8,52.8 L525.6,52.5 L526.4,50.9 L527.2,50.8 L528.0,50.3 L528.8,50.1 L529.5,50.1 L530.3,50.6 L531.1,50.1 L531.9,49.9 L532.7,50.3 L533.5,50.1" stroke="#000" stroke-width="1.9"/>
</g>
<text transform="translate(75.6,378.0) rotate(0.03) scale(1,0.97)" font-size="15.5px" text-anchor="middle">300</text>
<text transform="translate(151.9,378.0) rotate(0.03) scale(1,0.97)" font-size="15.5px" text-anchor="middle">400</text>
<text transform="translate(228.3,378.0) rotate(0.03) scale(1,0.97)" font-size="15.5px" text-anchor="middle">500</text>
<text transform="translate(304.6,378.0) rotate(0.03) scale(1,0.97)" font-size="15.5px" text-anchor="middle">600</text>
<text transform="translate(381.0,378.0) rotate(0.03) scale(1,0.97)" font-size="15.5px" text-anchor="middle">700</text>
<text transform="translate(457.4,378.0) rotate(0.03) scale(1,0.97)" font-size="15.5px" text-anchor="middle">800</text>
<text transform="translate(533.7,378.0) rotate(0.03) scale(1,0.97)" font-size="15.5px" text-anchor="middle">900</text>
<text transform="translate(67.4,363.2) rotate(0.03) scale(1,0.97)" font-size="15.5px" text-anchor="end">0</text>
<text transform="translate(67.4,294.1) rotate(0.03) scale(1,0.97)" font-size="15.5px" text-anchor="end">20</text>
<text transform="translate(67.4,224.9) rotate(0.03) scale(1,0.97)" font-size="15.5px" text-anchor="end">40</text>
<text transform="translate(67.4,155.8) rotate(0.03) scale(1,0.97)" font-size="15.5px" text-anchor="end">60</text>
<text transform="translate(67.4,86.6) rotate(0.03) scale(1,0.97)" font-size="15.5px" text-anchor="end">80</text>
<text transform="translate(67.4,17.5) rotate(0.03) scale(1,0.97)" font-size="15.5px" text-anchor="end">100</text>
<text transform="translate(232.0,405.9) rotate(0.03) scale(1,1.0)" font-size="18.5px" text-anchor="start" textLength="142" lengthAdjust="spacingAndGlyphs">Wavelength (nm)</text>
<text transform="translate(21.2,252.9) rotate(-90.03) scale(1,1.0)" font-size="18.5px" text-anchor="start" textLength="148" lengthAdjust="spacingAndGlyphs">Transmittance (%)</text>
<rect x="336.1" y="241.3" width="186.9" height="90.6" fill="#fff" stroke="#333" stroke-width="1"/>
<path d="M338,254H382.5" stroke="#0000ff" stroke-width="2"/>
<text transform="translate(387.5,260.2) rotate(0.03) scale(1,1.0)" font-size="18.3px" text-anchor="start" textLength="118" lengthAdjust="spacingAndGlyphs">85º inclination</text>
<path d="M338,276H382.5" stroke="#008000" stroke-width="2"/>
<text transform="translate(387.5,282.2) rotate(0.03) scale(1,1.0)" font-size="18.3px" text-anchor="start" textLength="118" lengthAdjust="spacingAndGlyphs">65º inclination</text>
<path d="M338,298H382.5" stroke="#ff00ff" stroke-width="2"/>
<text transform="translate(387.5,304.2) rotate(0.03) scale(1,1.0)" font-size="18.3px" text-anchor="start" textLength="107.5" lengthAdjust="spacingAndGlyphs">0º inclination</text>
<path d="M338,320H382.5" stroke="#000" stroke-width="2"/>
<text transform="translate(387.5,326.2) rotate(0.03) scale(1,1.0)" font-size="18.3px" text-anchor="start" textLength="132.8" lengthAdjust="spacingAndGlyphs">Glass substrate</text>
</svg></body></html>
